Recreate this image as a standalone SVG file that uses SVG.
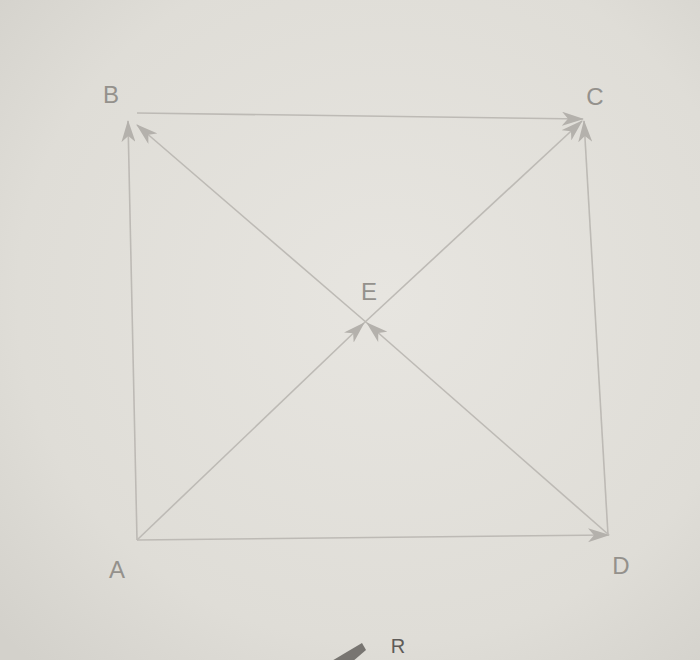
<svg xmlns="http://www.w3.org/2000/svg" width="700" height="660" viewBox="0 0 700 660">
  <defs>
    <radialGradient id="paper" cx="0.55" cy="0.45" r="0.75">
      <stop offset="0" stop-color="#e7e5e0"/>
      <stop offset="0.7" stop-color="#dfddd7"/>
      <stop offset="1" stop-color="#d3d1cb"/>
    </radialGradient>
    <marker id="arr" viewBox="0 0 22 14" refX="21" refY="7" markerWidth="22" markerHeight="14" markerUnits="userSpaceOnUse" orient="auto">
      <path d="M0,0 L22,7 L0,14 L6,7 Z" fill="#b4b1ac"/>
    </marker>
    <style>
      .edge { stroke: #bdbab5; stroke-width: 1.6; fill: none; }
      .lbl { font-family: "Liberation Sans", "DejaVu Sans", sans-serif; font-size: 24px; fill: #94918c; text-anchor: middle; }
    </style>
  </defs>
  <rect width="700" height="660" fill="url(#paper)"/>

  <g id="connectors">
    <line class="edge" x1="137" y1="540" x2="128" y2="121" marker-end="url(#arr)"/>
    <line class="edge" x1="137" y1="113" x2="583" y2="119" marker-end="url(#arr)"/>
    <line class="edge" x1="608" y1="535" x2="584" y2="121" marker-end="url(#arr)"/>
    <line class="edge" x1="137" y1="540" x2="609" y2="535" marker-end="url(#arr)"/>
    <line class="edge" x1="137" y1="540" x2="364" y2="323" marker-end="url(#arr)"/>
    <line class="edge" x1="364" y1="323" x2="582" y2="121" marker-end="url(#arr)"/>
    <line class="edge" x1="609" y1="535" x2="367" y2="323" marker-end="url(#arr)"/>
    <line class="edge" x1="367" y1="323" x2="137" y2="125" marker-end="url(#arr)"/>
  </g>

  <g id="node-B"><text class="lbl" x="111" y="103">B</text></g>
  <g id="node-C"><text class="lbl" x="595" y="105">C</text></g>
  <g id="node-E"><text class="lbl" x="369" y="300">E</text></g>
  <g id="node-A"><text class="lbl" x="117" y="578">A</text></g>
  <g id="node-D"><text class="lbl" x="621" y="574">D</text></g>

  <g id="bottom-fragment">
    <path d="M330,662 L362,643 L366,650 L352,662 Z" fill="#5e5b58" opacity="0.8"/>
    <text x="398" y="653" font-family="Liberation Sans, DejaVu Sans, sans-serif" font-size="20" fill="#5e5b58" text-anchor="middle">R</text>
  </g>
</svg>
